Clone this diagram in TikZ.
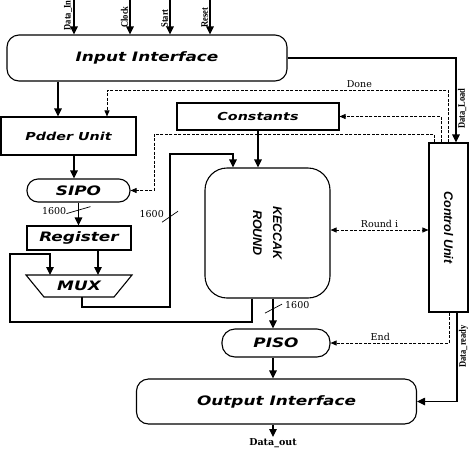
\documentclass[tikz,border=0pt]{standalone}
\usepackage{fontspec}
\setmainfont{DejaVu Serif}
\newfontfamily\boxfont[FakeStretch=1.3]{DejaVu Sans}
\newfontfamily\armfont{Liberation Sans}
\newfontfamily\pinfont[FakeStretch=0.85]{Liberation Serif}
\usetikzlibrary{positioning,arrows.meta}

\begin{document}
\begin{tikzpicture}[x=1pt,y=-1pt,
	block/.style={draw,line width=1.1pt,inner sep=0pt,
		font=\boxfont\fontsize{13}{15}\selectfont\bfseries\itshape},
	smallblock/.style={block,
		font=\boxfont\fontsize{11}{13}\selectfont\bfseries\itshape},
	pill/.style={block,rounded corners=11pt},
	sig/.style={line width=1.1pt,-{Triangle[width=7.5pt,length=8pt]}},
	ctl/.style={line width=0.7pt,dash pattern=on 3pt off 1.5pt,
		-{Triangle[width=5pt,length=6pt]}},
	lbl/.style={font=\fontsize{9.5}{11}\selectfont,inner sep=1pt},
	pin/.style={font=\pinfont\fontsize{10}{11}\selectfont\bfseries,
		rotate=90,inner sep=1.5pt},
	slash/.style={line width=0.7pt}
]
\useasboundingbox (0,0) rectangle (474,448);

% blocks
\node[block,rounded corners=12pt,minimum width=280pt,minimum height=46pt] (inif) at (147,58) {Input Interface};
\node[smallblock,minimum width=135pt,minimum height=38pt] (pdder) at (68.5,136) {Pdder Unit};
\node[smallblock,minimum width=162pt,minimum height=27pt] (const) at (258,116.5) {Constants};
\node[pill,minimum width=103pt,minimum height=23pt] (sipo) at (78.5,190.5) {SIPO};
\node[block,minimum width=104pt,minimum height=24pt] (reg) at (79,238) {Register};
% mux outline
\coordinate (muxTop) at (79,275);
\coordinate (muxBot) at (79,297);
\draw[line width=1.1pt] (26,275) -- (132,275) -- (114,297) -- (44,297) -- cycle;
\node[block,draw=none] (mux) at (79,286) {MUX};
\node[block,rounded corners=22pt,minimum width=125pt,minimum height=130pt] (keccak) at (267.5,233) {};
\node[font=\armfont\fontsize{12.5}{20}\selectfont\bfseries\itshape,align=center,rotate=-90] (kname) at (keccak) {KECCAK\\ROUND};
\node[block,minimum width=39pt,minimum height=169pt] (ctrl) at (448.5,227.5) {};
\node[font=\armfont\fontsize{12.5}{14}\selectfont\bfseries\itshape,rotate=-90] (cname) at (ctrl) {Control Unit};
\node[pill,rounded corners=13pt,minimum width=108pt,minimum height=28pt] (piso) at (276,343) {PISO};
\node[block,rounded corners=12pt,minimum width=280pt,minimum height=45pt] (outif) at (276.5,401.5) {Output Interface};

% top inputs
\coordinate (pData)  at (74,0);
\coordinate (pClock) at (130,0);
\coordinate (pStart) at (170,0);
\coordinate (pReset) at (210,0);
\draw[sig] (pData)  -- node[pin,pos=0.94,anchor=south west] {Data\_In} (pData |- inif.north);
\draw[sig] (pClock) -- node[pin,pos=0.86,anchor=south west] {Clock} (pClock |- inif.north);
\draw[sig] (pStart) -- node[pin,pos=0.86,anchor=south west] {Start} (pStart |- inif.north);
\draw[sig] (pReset) -- node[pin,pos=0.86,anchor=south west] {Reset} (pReset |- inif.north);

% data path
\draw[sig] (inif.east) -| node[pin,pos=0.8,anchor=north] {Data\_Load} ([xshift=7.5pt]ctrl.north);
\draw[sig] (58,0 |- inif.south) -- (58,0 |- pdder.north);
\draw[sig] (74,0 |- pdder.south) -- (74,0 |- sipo.north);
\draw[sig] (sipo.south) -- coordinate[pos=0.33] (w1) (sipo.south |- reg.north);
\draw[sig] (98,0 |- reg.south) -- (98,0 |- muxTop);
\draw[sig] (82,0 |- muxBot) |- (170,307) -- coordinate[pos=0.59] (w2) (170,154) -| (233,0 |- keccak.north);
\draw[sig] (252,0 |- keccak.south) -- (252,322) -- (10,322) -- (10,254) -| (50,0 |- muxTop);
\draw[sig] (const.south) -- (const.south |- keccak.north);
\draw[sig] (273,0 |- keccak.south) -- coordinate[pos=0.32] (w3) (273,0 |- piso.north);
\draw[sig] (273,0 |- piso.south) -- (273,0 |- outif.north);
\coordinate (dOut) at (273,437);
\draw[sig] (273,0 |- outif.south) -- (dOut);
\node[font=\fontsize{9.5}{11}\selectfont\bfseries,anchor=north,inner sep=1pt] (dname) at (dOut) {Data\_out};
\draw[sig] (457,0 |- ctrl.south) |- node[pin,pos=0.19,anchor=north] {Data\_ready} (outif.east);

% bus widths
\draw[slash] ([shift={(-12,3.5)}]w1) -- ([shift={(12,-3.5)}]w1);
\node[lbl,anchor=east] at ([shift={(-11,1)}]w1) {1600};
\draw[slash] ([shift={(-8,5.5)}]w2) -- ([shift={(8,-5.5)}]w2);
\node[lbl,anchor=east] at ([shift={(-5,-3)}]w2) {1600};
\draw[slash] ([shift={(-8,5)}]w3) -- ([shift={(9,-4)}]w3);
\node[lbl,anchor=west] at ([shift={(11,-3)}]w3) {1600};

% control lines
\draw[ctl] ([xshift=-0.5pt]ctrl.north) -- ++(0,-52) -| node[lbl,pos=0.13,above=1pt] {Done} ([xshift=38.5pt]pdder.north);
\draw[ctl] ([xshift=-7.5pt]ctrl.north) |- (const.east);
\coordinate (sbus) at (154,134);
\draw[ctl] ([xshift=-14.5pt]ctrl.north) |- (sbus) |- (sipo.east);
\draw[ctl,{Triangle[width=5pt,length=6pt]}-{Triangle[width=5pt,length=6pt]}] (0,230 -| keccak.east) -- node[lbl,above=1pt] {Round i} (0,230 -| ctrl.west);
\draw[ctl] (449,0 |- ctrl.south) |- node[lbl,pos=0.79,above=1pt] {End} (piso.east);
\end{tikzpicture}
\end{document}
